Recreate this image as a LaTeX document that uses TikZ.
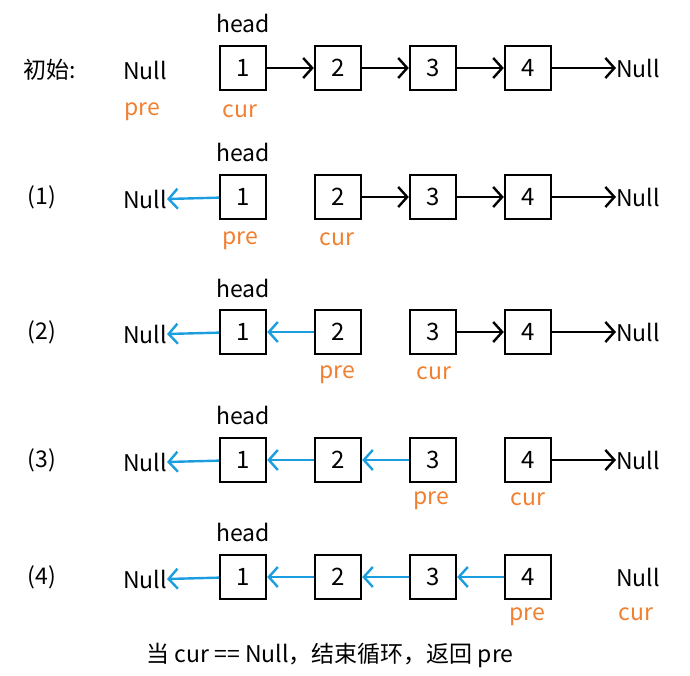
\documentclass[tikz,border=0pt]{standalone}
\usepackage{fontspec}
\setmainfont{Noto Sans CJK SC}
\usetikzlibrary{arrows.meta}
\definecolor{myblue}{HTML}{1A9EE0}
\definecolor{myorange}{HTML}{F08030}
\tikzset{
  box/.style={draw,line width=2.4pt,minimum width=46pt,minimum height=44pt,inner sep=0pt,font=\fontsize{24}{27}\selectfont},
  txt/.style={inner sep=0pt,font=\fontsize{23}{26}\selectfont},
  lab/.style={inner sep=0pt,font=\fontsize{23}{26}\selectfont,text=myorange},
  fwd/.style={line width=2.4pt,-{Straight Barb[length=9pt,width=20pt,line width=2.4pt]}},
  bwd/.style={line width=2.4pt,draw=myblue,-{Straight Barb[length=9pt,width=20pt,line width=2.4pt]}},
}
\begin{document}
\begin{tikzpicture}[x=1pt,y=-1pt]
\useasboundingbox (0,0) rectangle (690,676);
% row 0
\node[txt] (t0) at (50,70) {初始:};
\node[txt] (nl0) at (145,70) {Null};
\node[txt] (nr0) at (638,68) {Null};
\foreach \i/\x in {1/243,2/338,3/433,4/528}{\node[box] (a\i) at (\x,68) {\i};}
\node[txt] (h0) at (243,23) {head};
\draw[fwd] (a1) -- (a2); \draw[fwd] (a2) -- (a3); \draw[fwd] (a3) -- (a4);
\draw[fwd] (a4) -- (nr0.west);
\node[lab] (p0) at (142,112) {pre};
\node[lab] (c0) at (240,111) {cur};
% row 1
\node[txt] (t1) at (42,197) {(1)};
\node[txt] (nl1) at (145,199) {Null};
\node[txt] (nr1) at (638,197) {Null};
\foreach \i/\x in {1/243,2/338,3/433,4/528}{\node[box] (b\i) at (\x,197) {\i};}
\node[txt] (h1) at (243,152) {head};
\draw[bwd] (b1) -- (nl1.east);
\draw[fwd] (b2) -- (b3); \draw[fwd] (b3) -- (b4); \draw[fwd] (b4) -- (nr1.west);
\node[lab] (p1) at (240,241) {pre};
\node[lab] (c1) at (337,239) {cur};
% row 2
\node[txt] (t2) at (42,332) {(2)};
\node[txt] (nl2) at (145,334) {Null};
\node[txt] (nr2) at (638,332) {Null};
\foreach \i/\x in {1/243,2/338,3/433,4/528}{\node[box] (c\i) at (\x,332) {\i};}
\node[txt] (h2) at (243,288) {head};
\draw[bwd] (c1) -- (nl2.east); \draw[bwd] (c2) -- (c1);
\draw[fwd] (c3) -- (c4); \draw[fwd] (c4) -- (nr2.west);
\node[lab] (p2) at (337,375) {pre};
\node[lab] (c2l) at (434,373) {cur};
% row 3
\node[txt] (t3) at (42,460) {(3)};
\node[txt] (nl3) at (145,462) {Null};
\node[txt] (nr3) at (638,460) {Null};
\foreach \i/\x in {1/243,2/338,3/433,4/528}{\node[box] (d\i) at (\x,460) {\i};}
\node[txt] (h3) at (243,415) {head};
\draw[bwd] (d1) -- (nl3.east); \draw[bwd] (d2) -- (d1); \draw[bwd] (d3) -- (d2);
\draw[fwd] (d4) -- (nr3.west);
\node[lab] (p3) at (431,501) {pre};
\node[lab] (c3) at (528,499) {cur};
% row 4
\node[txt] (t4) at (42,577) {(4)};
\node[txt] (nl4) at (145,579) {Null};
\node[txt] (nr4) at (638,577) {Null};
\foreach \i/\x in {1/243,2/338,3/433,4/528}{\node[box] (e\i) at (\x,577) {\i};}
\node[txt] (h4) at (243,532) {head};
\draw[bwd] (e1) -- (nl4.east); \draw[bwd] (e2) -- (e1); \draw[bwd] (e3) -- (e2); \draw[bwd] (e4) -- (e3);
\node[lab] (p4) at (527,617) {pre};
\node[lab] (c4) at (636,614) {cur};
\node[txt] (end) at (330,655) {当 cur == Null，结束循环，返回 pre};
\end{tikzpicture}
\end{document}
